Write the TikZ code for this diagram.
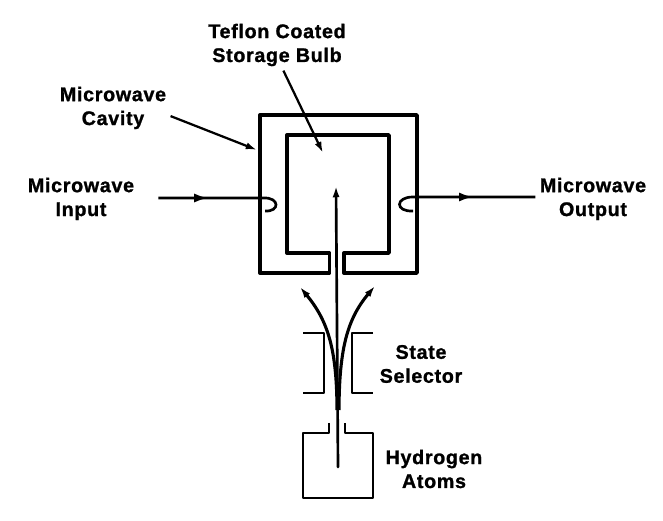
\documentclass[tikz,border=0pt]{standalone}
\usepackage{fontspec}
\setmainfont[LetterSpace=3.5,BoldFeatures={FakeBold=1.2}]{Liberation Sans}
\usepackage{tkz-euclide}
\usetikzlibrary{arrows.meta,decorations.markings}
\tikzset{
  partLabel/.style={font=\fontsize{14}{17}\selectfont\bfseries,align=center,inner sep=3pt},
  wall/.style={line width=2.4pt,line join=round},
  thinWall/.style={line width=2.1pt,line join=round},
  pointer/.style={line width=1.6pt,-{Latex[length=8pt,width=5pt]}},
  flow/.style={line width=1.9pt,postaction={decorate},decoration={markings,
    mark=at position #1 with {\arrow{Latex[length=10pt,width=6.5pt]}}}},
}
\begin{document}
\begin{tikzpicture}
    \useasboundingbox (0,0) rectangle (16.575,13.025);
    % Points
    \tkzDefPoint(6.5,10.15){ol}
    \tkzDefPoint(10.425,10.15){or}
    \tkzDefPoint(6.5,6.2){bl}
    \tkzDefPoint(8.24,6.2){gl}
    \tkzDefPoint(8.6,6.2){gr}
    \tkzDefPoint(10.425,6.2){br}
    \tkzDefPoint(7.175,9.65){il}
    \tkzDefPoint(9.725,9.65){ir}
    \tkzDefPoint(7.175,6.7){jl}
    \tkzDefPoint(8.24,6.7){hl}
    \tkzDefPoint(8.6,6.7){hr}
    \tkzDefPoint(9.725,6.7){jr}
    \tkzDefPoint(6.425,9.275){wallTip}
    \tkzDefPoint(8.075,9.2){bulbTip}
    \tkzDefPoint(6.575,8.075){inTop}
    \tkzDefPoint(6.625,7.75){inEnd}
    \tkzDefPoint(10.325,8.1){outTop}
    \tkzDefPoint(10.325,7.75){outEnd}
    \tkzDefPoint(8.45,1.35){beam}
    \tkzDefPoint(8.4,8.375){beamTip}
    \tkzDefPoint(8.425,2.775){splitL}
    \tkzDefPoint(8.475,2.775){splitR}
    \tkzDefPoint(7.5,5.85){tipL}
    \tkzDefPoint(9.375,5.875){tipR}
    \tkzDefPoint(7.575,4.7){sa}
    \tkzDefPoint(8.1,4.7){sb}
    \tkzDefPoint(8.1,3.2){sc}
    \tkzDefPoint(7.575,3.2){sd}
    \tkzDefPoint(9.325,4.7){se}
    \tkzDefPoint(8.8,4.7){sf}
    \tkzDefPoint(8.8,3.2){sg}
    \tkzDefPoint(9.325,3.2){sh}
    \tkzDefPoint(8.225,2.45){na}
    \tkzDefPoint(8.225,2.2){nb}
    \tkzDefPoint(7.575,2.2){nc}
    \tkzDefPoint(7.575,0.575){nd}
    \tkzDefPoint(9.325,0.575){ne}
    \tkzDefPoint(9.325,2.2){nf}
    \tkzDefPoint(8.625,2.2){ng}
    \tkzDefPoint(8.625,2.45){nh}
    % Labels
    \node[partLabel] (bulbLabel) at (6.925,11.9) {Teflon Coated\\Storage Bulb};
    \node[partLabel] (cavityLabel) at (2.825,10.325) {Microwave\\Cavity};
    \node[partLabel] (inputLabel) at (2.025,8.05) {Microwave\\Input};
    \node[partLabel] (outputLabel) at (14.825,8.05) {Microwave\\Output};
    \node[partLabel] (selectorLabel) at (10.525,3.925) {State\\Selector};
    \node[partLabel] (atomsLabel) at (10.85,1.3) {Hydrogen\\Atoms};
    % Drawing
    \tkzDrawPolygon[wall](hl,jl,il,ir,jr,hr,gr,br,or,ol,bl,gl)
    \draw[thinWall] (sa) -- (sb) -- (sc) -- (sd);
    \draw[thinWall] (se) -- (sf) -- (sg) -- (sh);
    \draw[thinWall] (na) -- (nb) -- (nc) -- (nd) -- (ne) -- (nf) -- (ng) -- (nh);
    \draw[pointer] (bulbLabel.-76) -- (bulbTip);
    \draw[pointer] (cavityLabel.-8) -- (wallTip);
    % Coupling loops
    \draw[flow=0.45,shorten <=14pt] (inputLabel.east |- inTop) -- (inTop)
      .. controls (7,8.1) and (7,7.725) .. (inEnd);
    \draw[flow=0.6] (outEnd) .. controls (9.875,7.725) and (9.875,8.1) .. (outTop)
      -- (outputLabel.west |- outTop);
    % Beam
    \tkzDrawSegment[pointer,line width=1.9pt](beam,beamTip)
    \draw[pointer,line width=2.2pt] (splitL) .. controls (8.42,4.3) and (8.2,5) .. (tipL);
    \draw[pointer,line width=2.2pt] (splitR) .. controls (8.48,4.3) and (8.68,5.05) .. (tipR);
\end{tikzpicture}
\end{document}
